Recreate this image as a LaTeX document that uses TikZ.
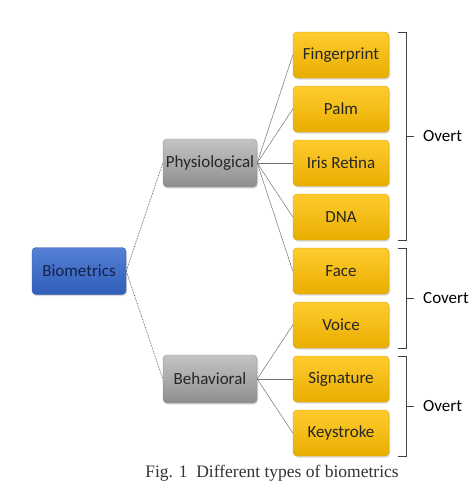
\documentclass[tikz,border=0pt]{standalone}
\usepackage{fontspec}
\setmainfont{Carlito}
\newfontfamily\capfont{Liberation Serif}
\usetikzlibrary{shadows}
\definecolor{goldtop}{HTML}{FFCB2E}
\definecolor{goldbot}{HTML}{E8AE00}
\definecolor{goldline}{HTML}{D9A300}
\definecolor{greytop}{HTML}{C4C4C4}
\definecolor{greybot}{HTML}{8E8E8E}
\definecolor{bluetop}{HTML}{5580D6}
\definecolor{bluebot}{HTML}{2F5DB8}
\definecolor{navytext}{HTML}{14224A}
\tikzstyle{leaf} = [rectangle, rounded corners=4pt, minimum width=96pt, minimum height=46pt, inner sep=1pt, text centered, draw=goldline, top color=goldtop, bottom color=goldbot, text=black!85, drop shadow={shadow xshift=1pt, shadow yshift=-1.5pt, opacity=0.3}, font=\fontsize{17}{20}\selectfont]
\tikzstyle{branch} = [rectangle, rounded corners=4pt, minimum width=94pt, minimum height=48pt, inner sep=1pt, text centered, draw=greybot, top color=greytop, bottom color=greybot, text=black!85, drop shadow={shadow xshift=1pt, shadow yshift=-1.5pt, opacity=0.3}, font=\fontsize{17}{20}\selectfont]
\tikzstyle{root} = [rectangle, rounded corners=4pt, minimum width=94pt, minimum height=47pt, inner sep=1pt, text centered, draw=bluebot, top color=bluetop, bottom color=bluebot, text=navytext, drop shadow={shadow xshift=1pt, shadow yshift=-1.5pt, opacity=0.3}, font=\fontsize{17}{20}\selectfont]
\tikzstyle{link} = [black!55, line width=0.5pt]
\tikzstyle{dotlink} = [black!70, densely dotted, line width=0.7pt]
\tikzstyle{brace} = [black!75, line width=0.6pt]
\tikzstyle{group} = [anchor=west, inner sep=0pt, font=\fontsize{17}{20}\selectfont]

\begin{document}
\begin{tikzpicture}[x=1pt, y=-1pt, node distance=54pt]
        \useasboundingbox (0,0) rectangle (474,490);
        \node (bio) [root] at (79,271) {Biometrics};
        \node (phys) [branch] at (210,163) {Physiological};
        \node (behav) [branch] at (210,379) {Behavioral};

        \node (finger) [leaf] at (341,55) {Fingerprint};
        \node (palm) [leaf, below of=finger] {Palm};
        \node (iris) [leaf, below of=palm] {Iris Retina};
        \node (dna) [leaf, below of=iris] {DNA};
        \node (face) [leaf, below of=dna] {Face};
        \node (voice) [leaf, below of=face] {Voice};
        \node (sign) [leaf, below of=voice] {Signature};
        \node (key) [leaf, below of=sign] {Keystroke};

        \draw [dotlink] (bio.east) -- (phys.west);
        \draw [dotlink] (bio.east) -- (behav.west);

        \draw [link] (phys.east) -- (finger.west);
        \draw [link] (phys.east) -- (palm.west);
        \draw [link] (phys.east) -- (iris.west);
        \draw [link] (phys.east) -- (dna.west);
        \draw [link] (phys.east) -- (face.west);
        \draw [link] (behav.east) -- (voice.west);
        \draw [link] (behav.east) -- (sign.west);
        \draw [link] (behav.east) -- (key.west);

        % brackets on the right
        \node (overtA) [group] at (423,136) {Overt};
        \node (covert) [group] at (423,298) {Covert};
        \node (overtB) [group] at (423,406) {Overt};
        \draw [brace] ([xshift=9pt]finger.north east) -| ([xshift=17pt]dna.south east) -- ([xshift=9pt]dna.south east);
        \draw [brace] ([xshift=9pt]face.north east) -| ([xshift=17pt]voice.south east) -- ([xshift=9pt]voice.south east);
        \draw [brace] ([xshift=9pt]sign.north east) -| ([xshift=17pt]key.south east) -- ([xshift=9pt]key.south east);
        \draw [brace] ([xshift=-17pt]overtA.west) -- ([xshift=-9pt]overtA.west);
        \draw [brace] ([xshift=-17pt]covert.west) -- ([xshift=-9pt]covert.west);
        \draw [brace] ([xshift=-17pt]overtB.west) -- ([xshift=-9pt]overtB.west);

        \node (caption) [font=\capfont\fontsize{17.5}{20}\selectfont, text=black!80] at (272,473) {Fig. 1\ \ Different types of biometrics};
\end{tikzpicture}
\end{document}
